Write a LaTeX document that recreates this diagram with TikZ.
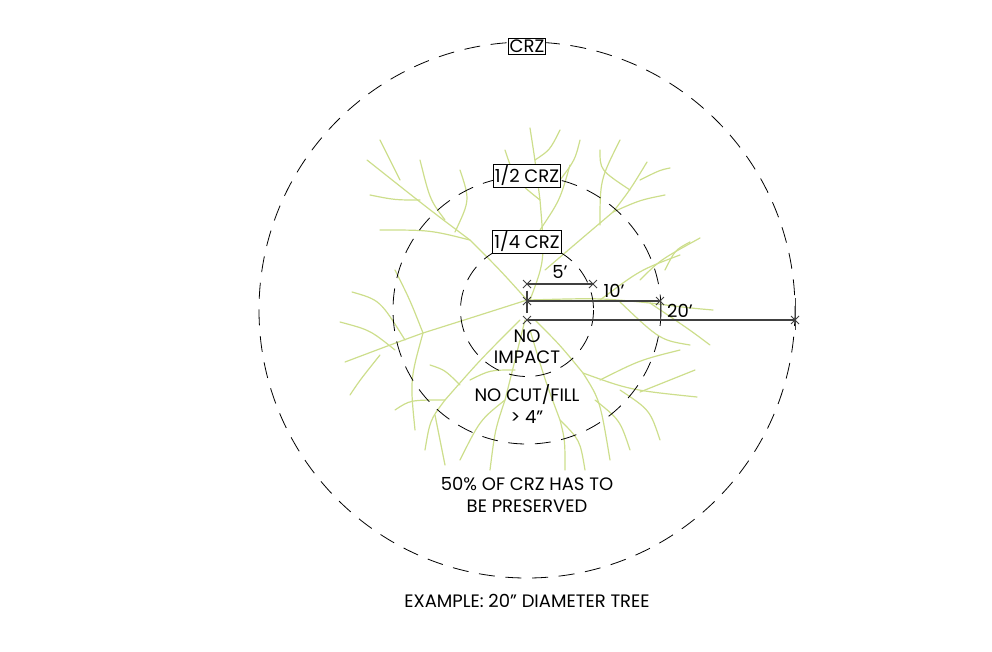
\documentclass[tikz,border=0pt]{standalone}
\usepackage{fontspec}
\setmainfont{Poppins}
\begin{document}
\begin{tikzpicture}[x=0.75pt,y=-0.75pt,
  ring/.style={draw=black,line width=0.6pt,dash pattern=on 12pt off 8pt},
  dim/.style={draw=black!75,line width=0.8pt},
  lbl/.style={font=\fontsize{13.5}{16}\selectfont,align=center,inner sep=1pt},
  boxed/.style={lbl,draw=black,line width=0.6pt,inner sep=1.2pt}]
\useasboundingbox (0,0) rectangle (992,651);
\definecolor{leaf}{RGB}{205,222,140}
\tikzset{br/.style={draw=leaf,line width=0.9pt,line cap=round}}
\coordinate (c) at (527,310);
% tree branches
\draw[br] (527,300) .. controls (480,315) .. (423,333) .. controls (390,345) .. (345,362);
\draw[br] (423,333) .. controls (410,300) .. (395,270);
\draw[br] (423,333) .. controls (410,380) .. (415,430);
\draw[br] (395,350) .. controls (370,330) .. (340,322);
\draw[br] (380,355) .. controls (360,380) .. (350,395);
\draw[br] (405,340) .. controls (380,300) .. (352,292);
\draw[br] (527,300) .. controls (500,270) .. (470,240) .. controls (430,210) .. (367,160);
\draw[br] (470,240) .. controls (430,230) .. (380,230);
\draw[br] (445,220) .. controls (430,200) .. (420,160);
\draw[br] (420,200) .. controls (395,200) .. (370,195);
\draw[br] (400,180) .. controls (385,150) .. (380,140);
\draw[br] (455,232) .. controls (470,200) .. (460,170);
\draw[br] (530,300) .. controls (545,260) .. (540,200) .. controls (535,160) .. (530,128);
\draw[br] (540,230) .. controls (560,200) .. (570,165);
\draw[br] (540,200) .. controls (515,180) .. (505,150);
\draw[br] (560,180) .. controls (575,160) .. (580,140);
\draw[br] (535,160) .. controls (550,150) .. (560,130);
\draw[br] (545,270) .. controls (580,240) .. (613,212) .. controls (630,190) .. (647,162);
\draw[br] (613,212) .. controls (640,200) .. (665,195);
\draw[br] (630,190) .. controls (600,170) .. (600,150);
\draw[br] (600,225) .. controls (600,180) .. (620,140);
\draw[br] (640,180) .. controls (660,170) .. (670,168);
\draw[br] (528,300) .. controls (600,298) .. (650,303) .. controls (690,308) .. (713,310);
\draw[br] (600,300) .. controls (640,270) .. (680,255);
\draw[br] (640,280) .. controls (660,260) .. (700,238);
\draw[br] (665,270) .. controls (675,250) .. (690,242);
\draw[br] (650,303) .. controls (690,330) .. (710,345);
\draw[br] (620,302) .. controls (660,340) .. (690,345);
\draw[br] (535,320) .. controls (560,345) .. (583,373) .. controls (630,390) .. (697,397);
\draw[br] (583,373) .. controls (600,400) .. (610,460);
\draw[br] (600,380) .. controls (640,360) .. (680,350);
\draw[br] (620,390) .. controls (650,410) .. (660,440);
\draw[br] (640,392) .. controls (670,380) .. (695,370);
\draw[br] (595,400) .. controls (620,420) .. (630,450);
\draw[br] (525,320) .. controls (515,360) .. (505,400) .. controls (495,430) .. (490,470);
\draw[br] (505,400) .. controls (480,420) .. (460,460);
\draw[br] (515,370) .. controls (490,370) .. (470,380);
\draw[br] (530,330) .. controls (545,380) .. (560,420) .. controls (565,440) .. (565,470);
\draw[br] (560,420) .. controls (580,440) .. (585,470);
\draw[br] (520,320) .. controls (480,360) .. (445,400) .. controls (430,420) .. (425,450);
\draw[br] (445,400) .. controls (410,400) .. (395,410);
\draw[br] (460,385) .. controls (445,370) .. (430,365);
\draw[br] (435,415) .. controls (440,440) .. (445,465);
% rings
\draw[ring] (c) circle[radius=268];
\draw[ring] (c) circle[radius=134];
\draw[ring] (c) circle[radius=66.5];
% labels
\node[boxed,fill=white] (crz) at (527,46) {CRZ};
\node[boxed,fill=white] (half) at (527,176) {1/2 CRZ};
\node[boxed,fill=white] (quart) at (527,242) {1/4 CRZ};
% dimensions
\coordinate (o1) at (527,284); \coordinate (e1) at (593,284);
\coordinate (o2) at (527,301); \coordinate (e2) at (660,301);
\coordinate (o3) at (527,320); \coordinate (e3) at (795,320);
\draw[dim] (o1) -- (e1);
\draw[dim] (o2) -- (e2);
\draw[dim] (o3) -- (e3);
\draw[dim] ([yshift=-5]o1) -- ([yshift=5]o3);
\foreach \p in {o1,e1,o2,e2,o3,e3}
  \draw[dim,line width=0.6pt] ([shift={(-4,-4)}]\p) -- ([shift={(4,4)}]\p) ([shift={(-4,4)}]\p) -- ([shift={(4,-4)}]\p);
\draw[dim,line width=0.6pt] (660,301) -- (660,318);
\draw[dim,line width=0.6pt] (795,298) -- (795,330);
\node[lbl] (d5) at (560,272) {5'};
\node[lbl] (d10) at (614,291) {10'};
\node[lbl] (d20) at (680,311) {20'};
\node[lbl] (ni) at (527,347) {NO\\IMPACT};
\node[lbl] (cf) at (527,404) {NO CUT/FILL\\> 4''};
\node[lbl] (pres) at (527,495) {50\% OF CRZ HAS TO\\BE PRESERVED};
\node[lbl] (ex) at (527,601) {EXAMPLE: 20'' DIAMETER TREE};
\end{tikzpicture}
\end{document}
